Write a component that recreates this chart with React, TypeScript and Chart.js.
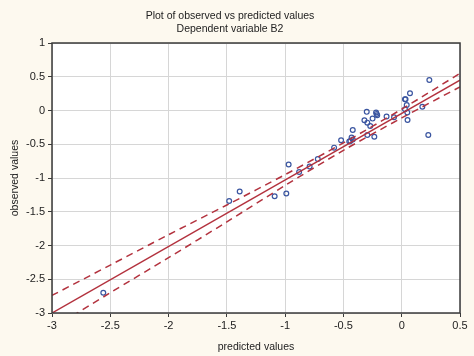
import { useEffect, useRef } from "react";
import { Chart, registerables } from "chart.js";

Chart.register(...registerables);

// Observed vs predicted points
const predicted = [
  -2.56, -1.48, -1.39, -1.09, -0.99, -0.97, -0.88, -0.79, -0.72, -0.58,
  -0.52, -0.43, -0.44, -0.42, -0.45, -0.42, -0.32, -0.30, -0.295, -0.295,
  -0.27, -0.25, -0.235, -0.22, -0.215, -0.21, -0.13, -0.066, 0.028, 0.033,
  0.043, 0.028, 0.048, 0.05, 0.071, 0.177, 0.228, 0.237,
];
const observed = [
  -2.70, -1.34, -1.20, -1.27, -1.23, -0.80, -0.91, -0.83, -0.72, -0.55,
  -0.44, -0.40, -0.45, -0.43, -0.46, -0.29, -0.145, -0.02, -0.18, -0.363,
  -0.23, -0.12, -0.39, -0.03, -0.05, -0.07, -0.09, -0.10, 0.166, 0.166,
  0.08, 0.02, -0.03, -0.14, 0.255, 0.056, -0.363, 0.452,
];

// Regression line
const fitX = [-3, 0.5];
const fitY = [-3.0, 0.45];

// Confidence band
const bandX = [-3, -2.5, -2, -1.5, -1, -0.5, 0, 0.5];
const bandUpper = [-2.74, -2.29, -1.84, -1.40, -0.95, -0.48, 0.02, 0.55];
const bandLower = [-3.23, -2.70, -2.18, -1.65, -1.11, -0.59, -0.11, 0.35];

const xTicks = [-3, -2.5, -2, -1.5, -1, -0.5, 0, 0.5];
const yTicks = [-3, -2.5, -2, -1.5, -1, -0.5, 0, 0.5, 1];

const titleLines = ["Plot of observed vs predicted values", "Dependent variable B2"];
const xTitle = "predicted values";
const yTitle = "observed values";

const FONT = "'Liberation Sans', Arial, sans-serif";
const RED = "#b3323e";
const BLUE = "#3a55a0";
const BG = "#fdf9ef";

export default function App() {
  const ref = useRef<HTMLCanvasElement | null>(null);

  useEffect(() => {
    document.body.style.margin = "0";
    document.body.style.background = BG;
    const canvas = ref.current;
    if (!canvas) return;

    const framePlugin = {
      id: "frame",
      beforeDraw(chart: any) {
        const { ctx, chartArea: a } = chart;
        ctx.save();
        ctx.fillStyle = BG;
        ctx.fillRect(0, 0, chart.width, chart.height);
        ctx.fillStyle = "#ffffff";
        ctx.fillRect(a.left, a.top, a.right - a.left, a.bottom - a.top);
        ctx.restore();
      },
      afterDraw(chart: any) {
        const { ctx, chartArea: a } = chart;
        ctx.save();
        ctx.strokeStyle = "#3a3a3a";
        ctx.lineWidth = 1.5;
        ctx.strokeRect(a.left, a.top, a.right - a.left, a.bottom - a.top);
        ctx.restore();
      },
    };

    const chart = new Chart(canvas, {
      type: "scatter",
      data: {
        datasets: [
          {
            type: "line",
            data: bandX.map((x, i) => ({ x, y: bandUpper[i] })),
            borderColor: RED,
            borderWidth: 1.5,
            borderDash: [7, 5],
            pointRadius: 0,
            fill: false,
            tension: 0.3,
          },
          {
            type: "line",
            data: bandX.map((x, i) => ({ x, y: bandLower[i] })),
            borderColor: RED,
            borderWidth: 1.5,
            borderDash: [7, 5],
            pointRadius: 0,
            fill: false,
            tension: 0.3,
          },
          {
            type: "line",
            data: fitX.map((x, i) => ({ x, y: fitY[i] })),
            borderColor: RED,
            borderWidth: 1.5,
            pointRadius: 0,
            fill: false,
          },
          {
            data: predicted.map((x, i) => ({ x, y: observed[i] })),
            pointStyle: "circle",
            pointRadius: 2.4,
            pointBorderWidth: 1.2,
            borderColor: BLUE,
            backgroundColor: "rgba(0,0,0,0)",
          },
        ],
      },
      options: {
        animation: false,
        responsive: false,
        layout: { padding: { left: 0, right: 14, top: 0, bottom: 0 } },
        plugins: {
          legend: { display: false },
          tooltip: { enabled: false },
          title: {
            display: true,
            text: titleLines,
            color: "#222",
            font: { family: FONT, size: 10.5, weight: "normal", lineHeight: 1.3 },
            padding: { top: 9, bottom: 6.7 },
          },
        },
        scales: {
          x: {
            type: "linear",
            min: -3,
            max: 0.5,
            afterBuildTicks: (s: any) => {
              s.ticks = xTicks.map((v) => ({ value: v }));
            },
            afterFit: (s: any) => {
              s.height = 43;
            },
            ticks: {
              color: "#222",
              font: { family: FONT, size: 11 },
              padding: 2,
              maxRotation: 0,
              callback: (v: any) => String(v),
            },
            grid: { color: "#d6d6d6", tickColor: "#3a3a3a", tickLength: 4, lineWidth: 1 },
            border: { display: false },
            title: {
              display: true,
              text: xTitle,
              color: "#222",
              font: { family: FONT, size: 10.5 },
              padding: { top: 6, bottom: 3 },
            },
          },
          y: {
            type: "linear",
            min: -3,
            max: 1,
            afterBuildTicks: (s: any) => {
              s.ticks = yTicks.map((v) => ({ value: v }));
            },
            afterFit: (s: any) => {
              s.width = 52;
            },
            ticks: {
              color: "#222",
              font: { family: FONT, size: 11 },
              padding: 3,
              callback: (v: any) => String(v),
            },
            grid: { color: "#d6d6d6", tickColor: "#3a3a3a", tickLength: 4, lineWidth: 1 },
            border: { display: false },
            title: {
              display: true,
              text: yTitle,
              color: "#222",
              font: { family: FONT, size: 10.5 },
              padding: { top: 9, bottom: 0 },
            },
          },
        },
      },
      plugins: [framePlugin],
    } as any);

    return () => chart.destroy();
  }, []);

  return (
    <div style={{ position: "absolute", left: 0, top: 0, width: 474, height: 356, background: BG }}>
      <canvas ref={ref} width={474} height={356} style={{ display: "block" }} />
    </div>
  );
}
